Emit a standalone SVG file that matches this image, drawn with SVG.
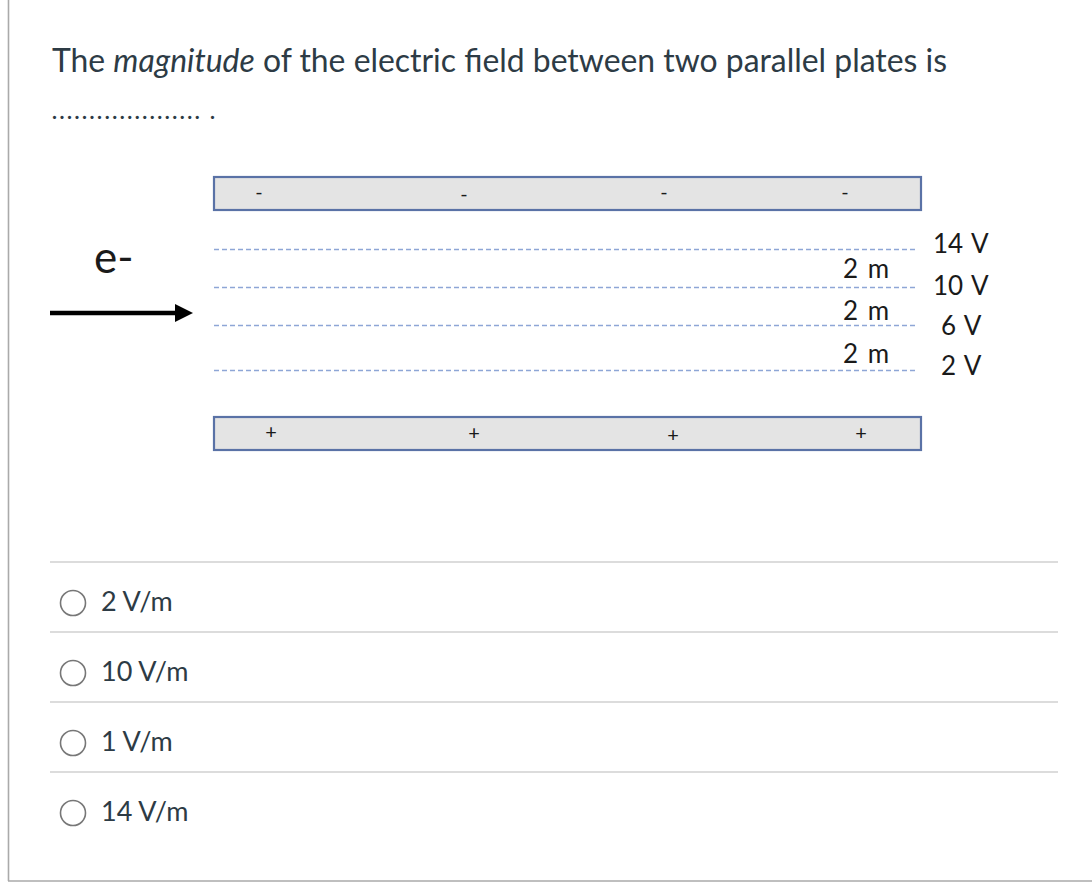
<svg xmlns="http://www.w3.org/2000/svg" width="1092" height="882" viewBox="0 0 1092 882">
<defs>
<style>
.q{font-family:Lato,"Open Sans",sans-serif;fill:#2d3b45}
.d{font-family:Lato,"Open Sans",sans-serif;fill:#1a1a1a}
.plate{fill:#e4e4e4;stroke:#5a72a6;stroke-width:2.2}
.eq{stroke:#8ea6d6;stroke-width:1.4;stroke-dasharray:5 3;fill:none}
.sep{stroke:#dcdcdc;stroke-width:2}
.radio{fill:#fff;stroke:#777;stroke-width:1.6}
</style>
<marker id="ah" markerWidth="18" markerHeight="18" refX="0" refY="9" markerUnits="userSpaceOnUse" orient="auto">
<path d="M0,0 L18,9 L0,18 Z" fill="#000"/>
</marker>
</defs>
<rect width="1092" height="882" fill="#fff"/>
<line x1="8.5" y1="0" x2="8.5" y2="881" stroke="#aaa" stroke-width="1.6"/>
<line x1="8" y1="881" x2="1092" y2="881" stroke="#aaa" stroke-width="1.6"/>
<g id="question">
<text class="q" x="52" y="71.5" font-size="31.9">The <tspan font-style="italic">magnitude</tspan> of the electric field between two parallel plates is</text>
<text class="q" x="52" y="119" font-size="21" font-weight="bold" textLength="163" lengthAdjust="spacing">.................... .</text>
</g>
<g id="top-plate">
<rect class="plate" x="214" y="177" width="707" height="33"/>
<text class="d" font-size="20" text-anchor="middle" x="259" y="199">-</text>
<text class="d" font-size="20" text-anchor="middle" x="464" y="201">-</text>
<text class="d" font-size="20" text-anchor="middle" x="664" y="199">-</text>
<text class="d" font-size="20" text-anchor="middle" x="845" y="199">-</text>
</g>
<g id="bottom-plate">
<rect class="plate" x="214" y="417" width="707" height="33"/>
<text class="d" font-size="20" text-anchor="middle" x="271" y="439">+</text>
<text class="d" font-size="20" text-anchor="middle" x="474" y="440">+</text>
<text class="d" font-size="20" text-anchor="middle" x="673" y="442">+</text>
<text class="d" font-size="20" text-anchor="middle" x="861" y="440">+</text>
</g>
<g id="equipotentials">
<line class="eq" x1="214" y1="249.5" x2="918" y2="249.5"/>
<line class="eq" x1="214" y1="287.5" x2="918" y2="287.5"/>
<line class="eq" x1="214" y1="325.5" x2="918" y2="325.5"/>
<line class="eq" x1="214" y1="370.5" x2="918" y2="370.5"/>
</g>
<g id="labels">
<text class="d" font-size="26" x="843" y="278" word-spacing="3">2 m</text>
<text class="d" font-size="26" x="843" y="320" word-spacing="3">2 m</text>
<text class="d" font-size="26" x="843" y="363" word-spacing="3">2 m</text>
<text class="d" font-size="26" x="933" y="253" word-spacing="2">14 V</text>
<text class="d" font-size="26" x="933" y="295" word-spacing="2">10 V</text>
<text class="d" font-size="26" x="941" y="335" word-spacing="2">6 V</text>
<text class="d" font-size="26" x="941" y="375" word-spacing="2">2 V</text>
</g>
<g id="electron">
<text class="d" font-size="44" x="94" y="273">e-</text>
</g>
<g id="connectors">
<line x1="50" y1="313" x2="175" y2="313" stroke="#000" stroke-width="4.5" marker-end="url(#ah)"/>
</g>
<g id="options">
<line class="sep" x1="50" y1="562" x2="1058" y2="562"/>
<line class="sep" x1="50" y1="632" x2="1058" y2="632"/>
<line class="sep" x1="50" y1="702" x2="1058" y2="702"/>
<line class="sep" x1="50" y1="772" x2="1058" y2="772"/>
<g id="opt1"><circle class="radio" cx="73" cy="603" r="12.5"/><text class="q" font-size="27" x="101" y="611">2 V/m</text></g>
<g id="opt2"><circle class="radio" cx="73" cy="673" r="12.5"/><text class="q" font-size="27" x="101" y="681">10 V/m</text></g>
<g id="opt3"><circle class="radio" cx="73" cy="743" r="12.5"/><text class="q" font-size="27" x="101" y="751">1 V/m</text></g>
<g id="opt4"><circle class="radio" cx="73" cy="813" r="12.5"/><text class="q" font-size="27" x="101" y="821">14 V/m</text></g>
</g>
</svg>
